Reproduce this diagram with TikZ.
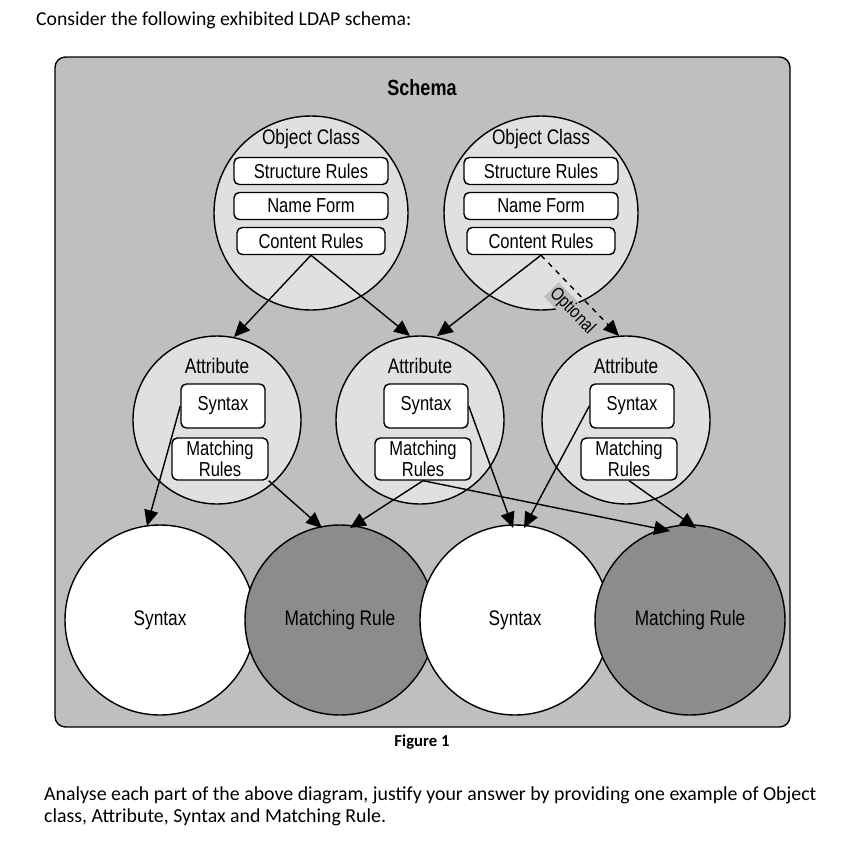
\documentclass[tikz,border=0pt]{standalone}
\usepackage{fontspec}
\setmainfont{Carlito}
\newfontfamily\narrowsf{Liberation Sans}[FakeStretch=0.82]
\usetikzlibrary{arrows.meta}

\begin{document}
\begin{tikzpicture}[x=0.02cm,y=-0.02cm,>={Triangle[length=9pt,width=8pt]},
	box/.style={draw,thick,fill=white,rounded corners=3pt,font=\narrowsf\fontsize{11.5}{11}\selectfont,inner sep=1pt,align=center},
	link/.style={thick,->}]
	\useasboundingbox (0,0) rectangle (852,842);
	% Question text
	\node[anchor=west,font=\fontsize{11.2}{14}\selectfont] (q) at (30,20) {Consider the following exhibited LDAP schema:};
	\path[draw,thick,rounded corners=6pt,fill=black!25] (55,57) rectangle (790,727);
	\node[font=\narrowsf\bfseries\fontsize{12.5}{14}\selectfont] (schema) at (422,88) {Schema};
	% Object classes
	\foreach \n/\x in {1/311,2/541}{
		\draw[thick,fill=black!12] (\x,213) circle (97);
		\node[font=\narrowsf\fontsize{12}{14}\selectfont] (oc\n) at (\x,139) {Object Class};
		\node[box,minimum width=154*0.02cm,minimum height=27*0.02cm] (sr\n) at (\x,171) {Structure Rules};
		\node[box,minimum width=154*0.02cm,minimum height=27*0.02cm] (nf\n) at (\x,206) {Name Form};
		\node[box,minimum width=148*0.02cm,minimum height=27*0.02cm] (cr\n) at (\x,241) {Content Rules};
	}
	% Attributes
	\foreach \n/\x in {1/217,2/420,3/626}{
		\draw[thick,fill=black!12] (\x,420) circle (84);
		\node[font=\narrowsf\fontsize{12}{14}\selectfont] (at\n) at (\x,366) {Attribute};
		\node[box,minimum width=84*0.02cm,minimum height=44*0.02cm] (sx\n) at (\x+6,406) {Syntax};
		\node[box,minimum width=96*0.02cm,minimum height=42*0.02cm,font=\narrowsf\fontsize{11.5}{9.5}\selectfont] (mr\n) at (\x+3,459) {Matching\\Rules};
	}
	% Syntaxes and matching rules
	\foreach \n/\x/\f/\t in {1/160/white/Syntax,2/340/black!45/Matching Rule,3/515/white/Syntax,4/690/black!45/Matching Rule}{
		\draw[thick,fill=\f] (\x,620) circle (95);
		\node[font=\narrowsf\fontsize{12}{14}\selectfont] (bc\n) at (\x,620) {\t};
	}
	\coordinate (a1) at (234,337);
	\coordinate (a2) at (410,336);
	\coordinate (a2r) at (437,336);
	\coordinate (a3) at (619,336);
	\coordinate (b1) at (147,526);
	\coordinate (b2l) at (322,528);
	\coordinate (b2r) at (350,528);
	\coordinate (b3l) at (513,528);
	\coordinate (b3r) at (524,528);
	\coordinate (b4l) at (670,531);
	\coordinate (b4r) at (696,528);
	\draw[link] (cr1.south) -- (a1);
	\draw[link] (cr1.south) -- (a2);
	\draw[link] (cr2.south) -- (a2r);
	\draw[link,dashed] (cr2.south) -- node[sloped,below=3pt,fill=black!25,inner sep=1pt,font=\narrowsf\fontsize{10.5}{12}\selectfont,pos=0.55] {Optional} (a3);
	\draw[link] (sx1.west) -- (b1);
	\draw[link] (mr1.south east) -- (b2l);
	\draw[link] (mr2.south) -- (b2r);
	\draw[link] (mr2.south) -- (b4l);
	\draw[link] (sx2.east) -- (b3l);
	\draw[link] (sx3.west) -- (b3r);
	\draw[link] (mr3.south) -- (b4r);
	\node[font=\bfseries\fontsize{9.5}{12}\selectfont] (fig) at (422,742) {Figure 1};
	\node[anchor=north west,align=left,font=\fontsize{11.3}{12.8}\selectfont] (task) at (38,780) {Analyse each part of the above diagram, justify your answer by providing one example of Object\\class, Attribute, Syntax and Matching Rule.};
\end{tikzpicture}
\end{document}
